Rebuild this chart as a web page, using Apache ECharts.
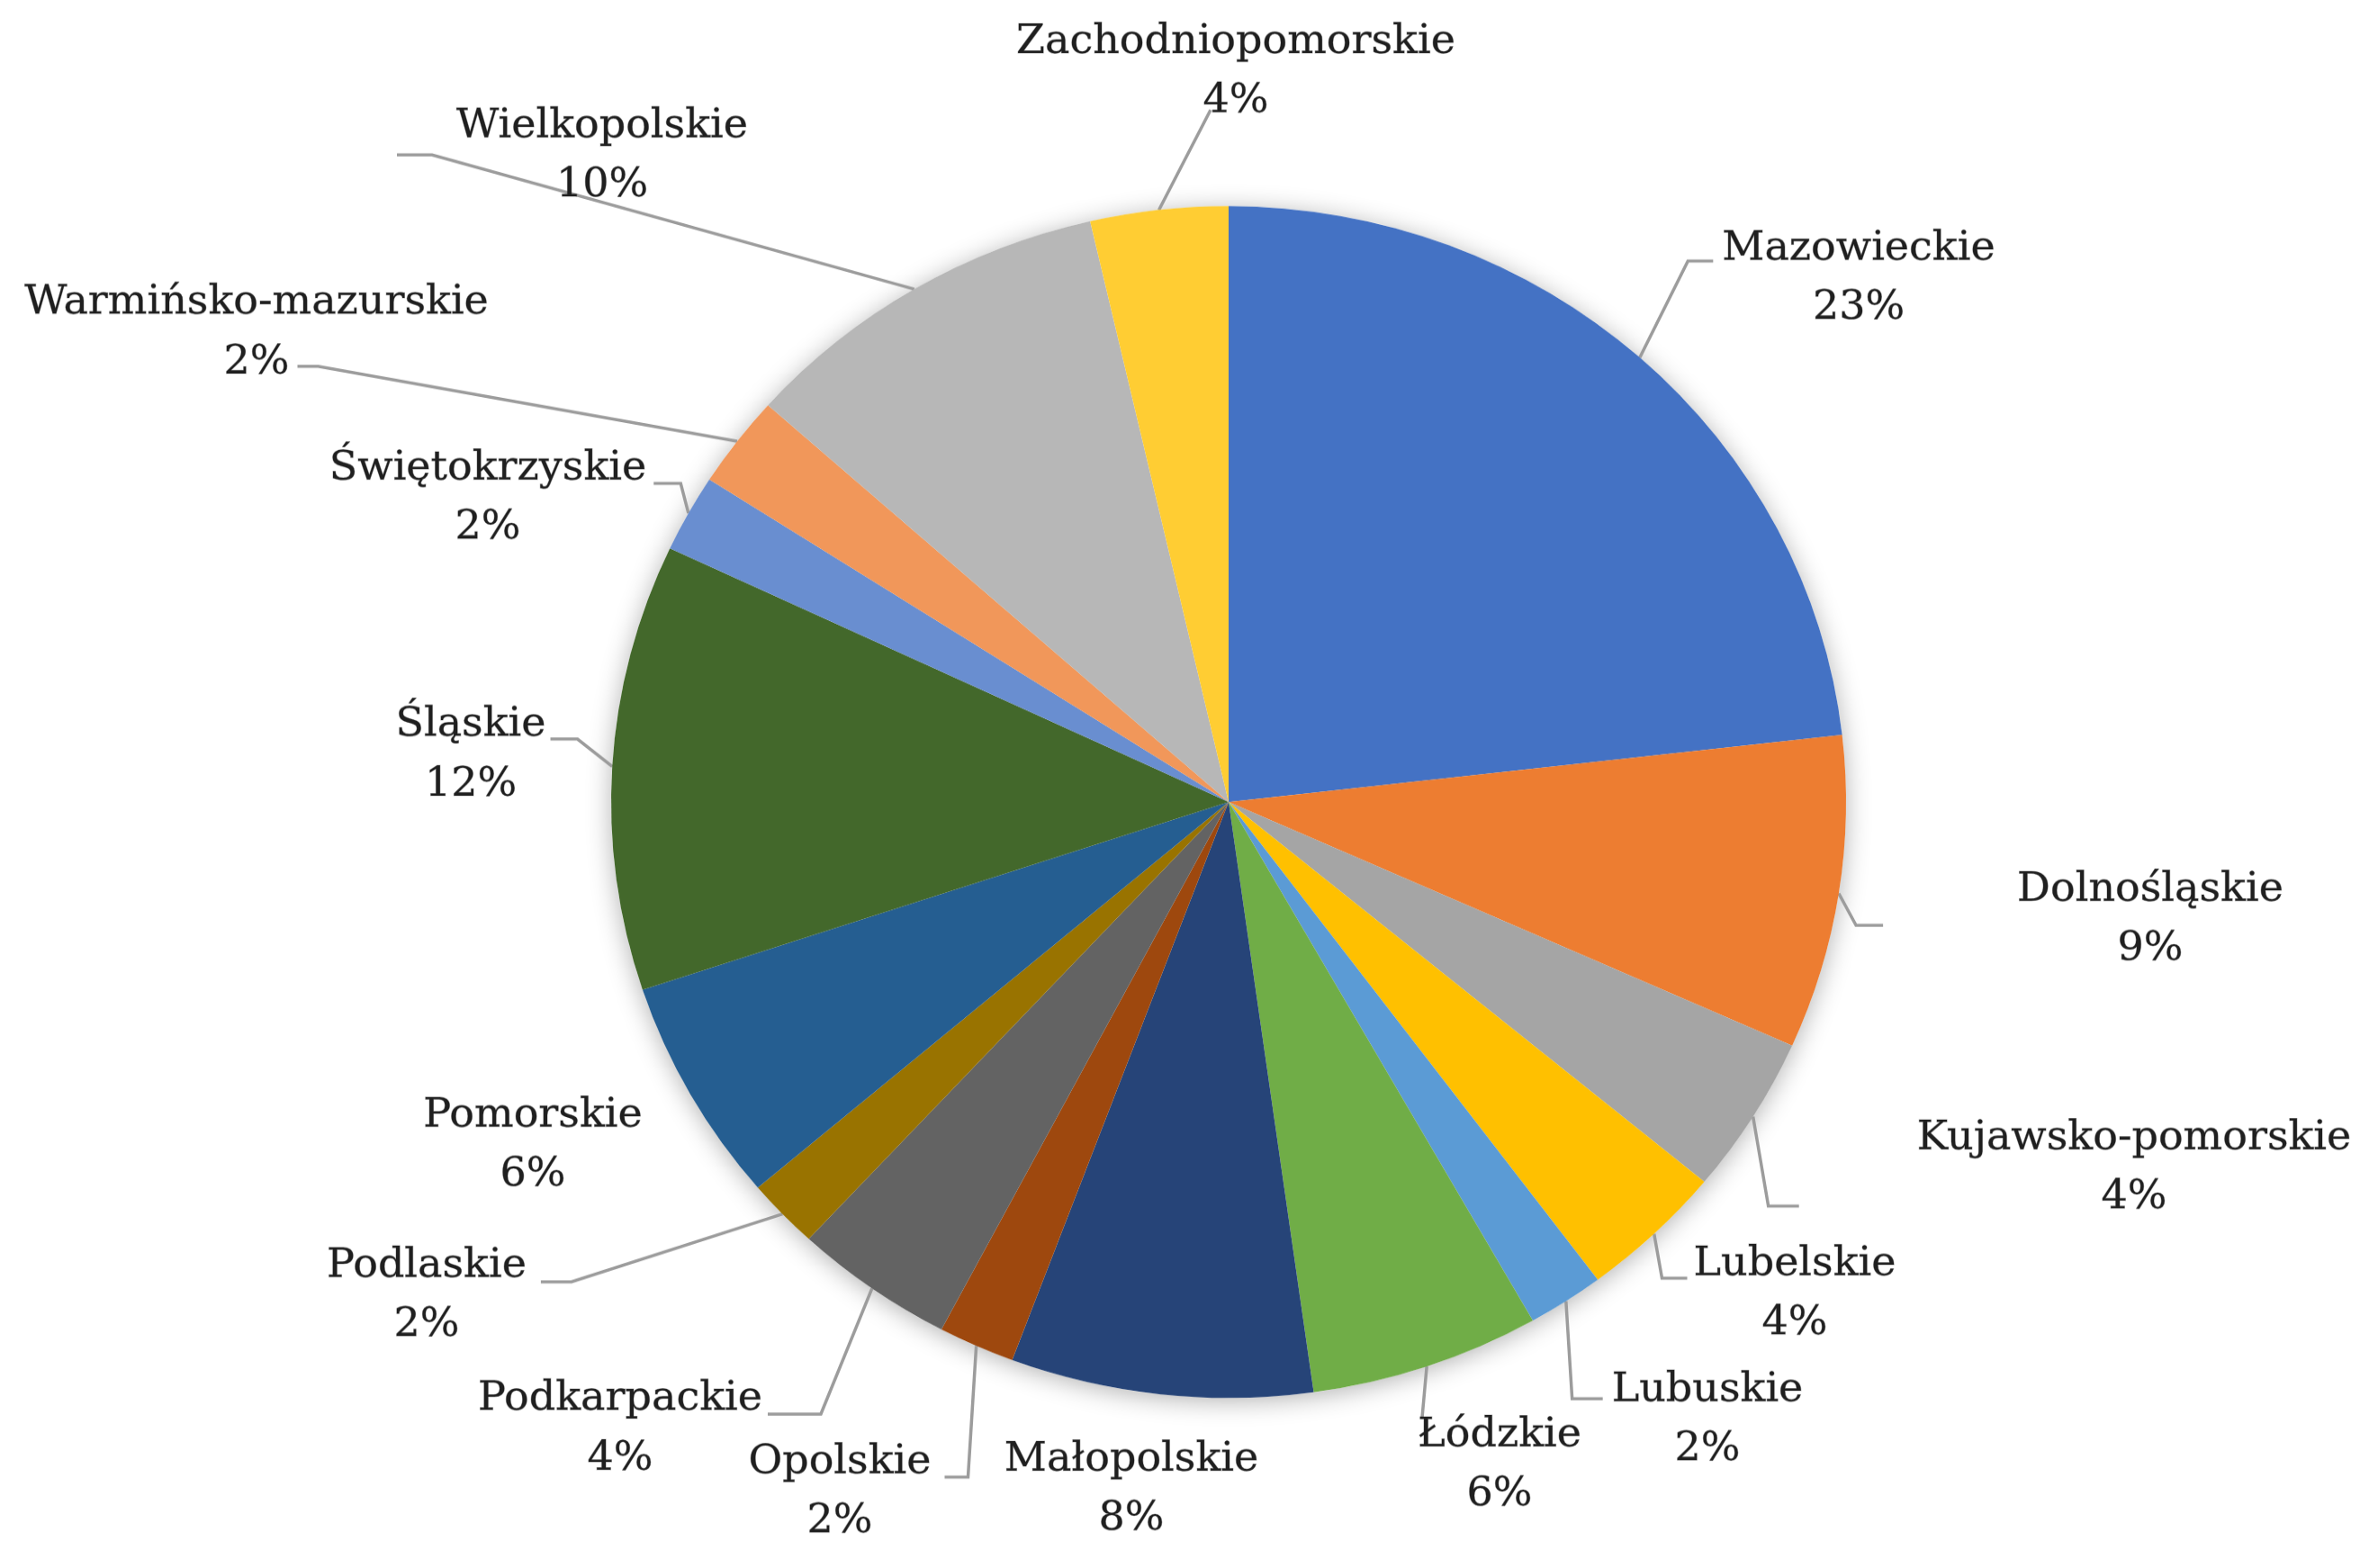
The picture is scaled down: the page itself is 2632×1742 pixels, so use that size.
<!DOCTYPE html>
<html>
<head>
<meta charset="utf-8">
<script src="https://cdn.jsdelivr.net/npm/echarts@6/dist/echarts.min.js"></script>
<style>
html,body{margin:0;padding:0;background:#ffffff;overflow:hidden;}
#wrap{width:2632px;height:1742px;overflow:hidden;}
#chart{width:2632px;height:1805px;transform:scale(1,0.965);transform-origin:0 0;}
</style>
</head>
<body>
<div id="wrap"><div id="chart"></div></div>
<script>
// ---- data ----
const categories = ['Mazowieckie','Dolnośląskie','Kujawsko-pomorskie','Lubelskie','Lubuskie','Łódzkie','Małopolskie','Opolskie','Podkarpackie','Podlaskie','Pomorskie','Śląskie','Świętokrzyskie','Warmińsko-mazurskie','Wielkopolskie','Zachodniopomorskie'];
const shares = [23.2, 8.5, 4.3, 3.8, 2.0, 6.0, 7.9, 2.0, 4.2, 1.9, 6.1, 12.1, 2.1, 2.5, 9.8, 3.6];
const percentLabels = ['23%','9%','4%','4%','2%','6%','8%','2%','4%','2%','6%','12%','2%','2%','10%','4%'];

// ---- style / layout ----
const colors = ['#4472C4','#ED7D31','#A5A5A5','#FFC000','#5B9BD5','#70AD47','#264478','#9E480E','#636363','#997300','#255E91','#43682B','#698ED0','#F1975A','#B7B7B7','#FFCD33'];
const SY = 0.965;               // vertical squash of the reference picture
const FONT = 'DejaVu Serif';
const FS = 46;
const LH = 66;
// label block centres (page px) and leader-line attachment
const placement = [
  {c:[2065,310],  line:true, side:'l', row:0, gap:10,  dy:-20, elbow:-28},
  {c:[2389,1022], line:true, side:'l', row:0, gap:149, dy:6,   elbow:-30},
  {c:[2371,1298], line:true, side:'l', row:0, gap:131, dy:42,  elbow:-34},
  {c:[1994,1438], line:true, side:'l', row:0, gap:7,   dy:-18, elbow:-28},
  {c:[1897,1578], line:true, side:'l', row:0, gap:10,  dy:-24, elbow:-34},
  {c:[1666,1628], line:true, ax:-86, dy:-53},
  {c:[1257,1655], line:false},
  {c:[933,1658],  line:true, side:'r', row:0, gap:15,  dy:-17, elbow:26},
  {c:[689,1588],  line:true, side:'r', row:0, gap:6,   dy:-17, elbow:59},
  {c:[474,1440],  line:true, side:'r', row:0, gap:16,  dy:-16, elbow:34},
  {c:[592,1273],  line:false},
  {c:[523,839],   line:true, side:'r', row:0, gap:5,   dy:-18, elbow:30},
  {c:[542,554],   line:true, side:'r', row:0, gap:8,   dy:-17, elbow:30},
  {c:[285,370],   line:true, side:'r', row:1, gap:9,   dy:37,  elbow:23},
  {c:[669,174],   line:true, side:'l', row:0, gap:66,  dy:-2,  elbow:39},
  {c:[1373,80],   line:true, ax:-28, dy:42}
];

const mctx = document.createElement('canvas').getContext('2d');
mctx.font = FS + 'px "' + FONT + '"';
function textW(s){ return mctx.measureText(s).width; }

const total = shares.reduce((a,b)=>a+b,0);
const chartData = categories.map((name,i)=>({
  name: name,
  value: shares[i],
  itemStyle: {color: colors[i]},
  labelLine: {show: placement[i].line}
}));

const center = [1365, 891 / SY];
const radius = 686;

const chart = echarts.init(document.getElementById('chart'), null, {renderer:'canvas'});
chart.setOption({
  backgroundColor: '#ffffff',
  animation: false,
  series: [
    {
      type: 'pie',
      silent: true,
      center: center,
      radius: radius,
      z: 1,
      label: {show: false},
      labelLine: {show: false},
      itemStyle: {color: '#ffffff', shadowBlur: 28, shadowColor: 'rgba(0,0,0,0.30)', shadowOffsetY: 4},
      data: [{name: 'total', value: total}]
    },
    {
      type: 'pie',
      center: center,
      radius: radius,
      z: 2,
      startAngle: 90,
      clockwise: true,
      avoidLabelOverlap: false,
      emphasis: {disabled: true},
      itemStyle: {borderWidth: 0},
      label: {
        show: true,
        position: 'outside',
        fontFamily: FONT,
        fontSize: FS,
        lineHeight: LH / SY,
        color: '#1f1f1f',
        textBorderColor: 'rgba(31,31,31,0.35)',
        textBorderWidth: 1,
        formatter: p => p.name + '\n' + percentLabels[p.dataIndex]
      },
      labelLine: {
        show: true,
        length: 20,
        length2: 20,
        lineStyle: {color: '#9c9c9c', width: 3.5}
      },
      labelLayout: function (params) {
        const i = params.dataIndex;
        const p = placement[i];
        const cx = p.c[0];
        const cy = p.c[1] / SY;
        const res = {x: cx, y: cy, align: 'center', verticalAlign: 'middle'};
        if (p.line && params.labelLinePoints) {
          const a = params.labelLinePoints[0];
          let ex;
          if (p.side) {
            const lines = [categories[i], percentLabels[i]];
            const w = textW(lines[p.row]);
            ex = p.side === 'l' ? cx - w / 2 - p.gap : cx + w / 2 + p.gap;
          } else {
            ex = cx + p.ax;
          }
          const ey = cy + p.dy / SY;
          let mid;
          if (p.elbow) mid = [ex + p.elbow, ey];
          else mid = [(a[0] + ex) / 2, (a[1] + ey) / 2];
          res.labelLinePoints = [[a[0], a[1]], mid, [ex, ey]];
        }
        return res;
      },
      data: chartData
    }
  ]
});
</script>
</body>
</html>
